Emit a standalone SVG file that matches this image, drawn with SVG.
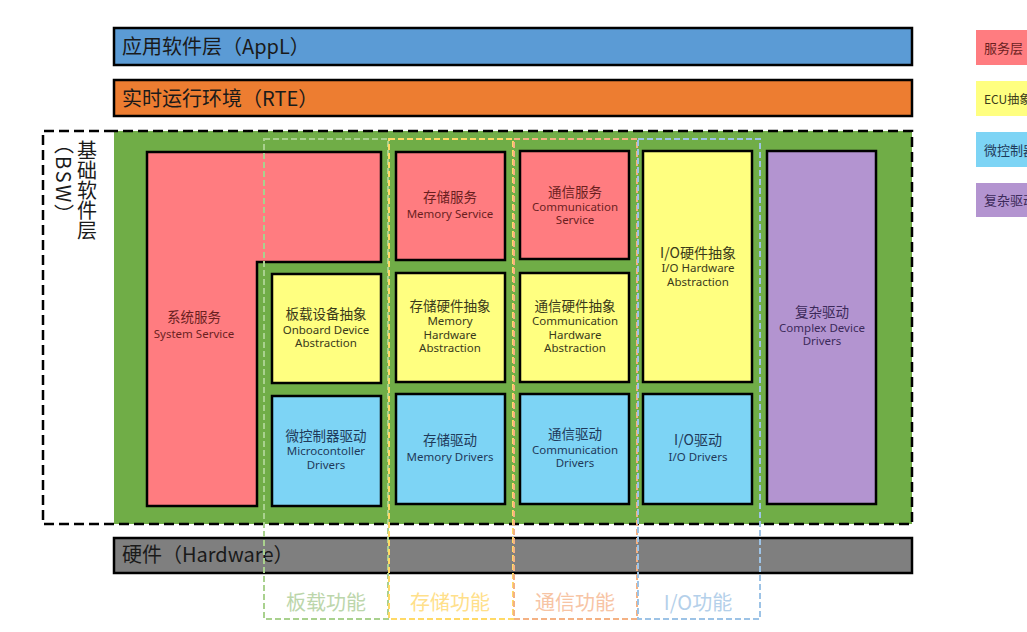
<svg xmlns="http://www.w3.org/2000/svg" width="1027" height="632" viewBox="0 0 1027 632">
<style>
.bar{stroke:#000;stroke-width:2.5}
.box{stroke:#000;stroke-width:2.5}
.red{fill:#ff7c80}
.yel{fill:#ffff80}
.blu{fill:#7dd4f5}
.pur{fill:#b394d0}
.big{font-family:"Noto Sans CJK SC",sans-serif;font-size:20px;fill:#1a1a1a}
.zh{font-family:"Noto Sans CJK SC",sans-serif;font-size:13.5px;text-anchor:middle}
.en{font-family:"Noto Sans","Noto Sans CJK SC",sans-serif;font-size:11.5px;text-anchor:middle}
.tr{fill:#6b1f1f}
.ty{fill:#3a3a1a}
.tb{fill:#1f3a5a}
.tp{fill:#3c2a5a}
.fn{fill:none;stroke-width:2;stroke-dasharray:6 3}
.fl{font-family:"Noto Sans CJK SC",sans-serif;font-size:20px;text-anchor:middle}
.lg{font-family:"Noto Sans CJK SC",sans-serif;font-size:13px}
.vt{font-family:"Noto Sans CJK SC",sans-serif;font-size:20px;fill:#1a1a1a;writing-mode:vertical-rl}
</style>
<rect width="1027" height="632" fill="#fff"/>

<g id="appl">
<rect class="bar" x="114" y="28" width="798" height="37" fill="#5b9bd5"/>
<text class="big" x="122" y="54">应用软件层（AppL）</text>
</g>
<g id="rte">
<rect class="bar" x="114" y="80" width="798" height="36" fill="#ed7d31"/>
<text class="big" x="122" y="106">实时运行环境（RTE）</text>
</g>

<g id="bsw">
<rect x="114" y="131" width="798" height="393" fill="#70ad47"/>
<path d="M114 131 H43 V524 H912 V131 H114" fill="none" stroke="#000" stroke-width="2.5" stroke-dasharray="10 5"/>
<text class="vt" x="87" y="140">基础软件层</text>
<text class="vt" x="64" y="134" letter-spacing="2">（BSW）</text>
</g>

<g id="hardware">
<rect class="bar" x="114" y="538" width="798" height="35" fill="#7f7f7f"/>
<text class="big" x="122" y="562">硬件（Hardware）</text>
</g>

<g id="system-service">
<path class="box red" d="M147 152 H381 V262 H257 V506 H147 Z"/>
<text class="zh tr" x="194" y="322">系统服务</text>
<text class="en tr" x="194" y="338">System Service</text>
</g>
<g id="onboard-abstraction">
<rect class="box yel" x="272" y="274" width="109" height="109"/>
<text class="zh ty" x="326" y="319">板载设备抽象</text>
<text class="en ty" x="326" y="334">Onboard Device</text>
<text class="en ty" x="326" y="347">Abstraction</text>
</g>
<g id="mcu-drivers">
<rect class="box blu" x="272" y="396" width="109" height="110"/>
<text class="zh tb" x="326" y="441">微控制器驱动</text>
<text class="en tb" x="326" y="455">Microcontoller</text>
<text class="en tb" x="326" y="469">Drivers</text>
</g>

<g id="memory-service">
<rect class="box red" x="396" y="152" width="109" height="108"/>
<text class="zh tr" x="450" y="202">存储服务</text>
<text class="en tr" x="450" y="218">Memory Service</text>
</g>
<g id="memory-hw-abstraction">
<rect class="box yel" x="396" y="273" width="109" height="109"/>
<text class="zh ty" x="450" y="311">存储硬件抽象</text>
<text class="en ty" x="450" y="325">Memory</text>
<text class="en ty" x="450" y="339">Hardware</text>
<text class="en ty" x="450" y="352">Abstraction</text>
</g>
<g id="memory-drivers">
<rect class="box blu" x="396" y="394" width="109" height="110"/>
<text class="zh tb" x="450" y="445">存储驱动</text>
<text class="en tb" x="450" y="461">Memory Drivers</text>
</g>

<g id="comm-service">
<rect class="box red" x="520" y="151" width="109" height="108"/>
<text class="zh tr" x="575" y="197">通信服务</text>
<text class="en tr" x="575" y="211">Communication</text>
<text class="en tr" x="575" y="224">Service</text>
</g>
<g id="comm-hw-abstraction">
<rect class="box yel" x="520" y="273" width="109" height="109"/>
<text class="zh ty" x="575" y="311">通信硬件抽象</text>
<text class="en ty" x="575" y="325">Communication</text>
<text class="en ty" x="575" y="339">Hardware</text>
<text class="en ty" x="575" y="352">Abstraction</text>
</g>
<g id="comm-drivers">
<rect class="box blu" x="520" y="394" width="109" height="110"/>
<text class="zh tb" x="575" y="439">通信驱动</text>
<text class="en tb" x="575" y="454">Communication</text>
<text class="en tb" x="575" y="467">Drivers</text>
</g>

<g id="io-hw-abstraction">
<rect class="box yel" x="643" y="151" width="109" height="231"/>
<text class="zh ty" x="698" y="258" style="font-size:14px">I/O硬件抽象</text>
<text class="en ty" x="698" y="272">I/O Hardware</text>
<text class="en ty" x="698" y="286">Abstraction</text>
</g>
<g id="io-drivers">
<rect class="box blu" x="643" y="394" width="109" height="110"/>
<text class="zh tb" x="698" y="445" style="font-size:14px">I/O驱动</text>
<text class="en tb" x="698" y="461">I/O Drivers</text>
</g>

<g id="complex-drivers">
<rect class="box pur" x="767" y="151" width="109" height="353"/>
<text class="zh tp" x="822" y="317">复杂驱动</text>
<text class="en tp" x="822" y="332">Complex Device</text>
<text class="en tp" x="822" y="345">Drivers</text>
</g>

<g id="func-onboard">
<rect class="fn" x="264" y="139" width="124" height="480" stroke="#a9d18e"/>
<text class="fl" x="326" y="610" fill="#bcd6ab">板载功能</text>
</g>
<g id="func-memory">
<rect class="fn" x="389" y="139" width="124" height="480" stroke="#ffd966"/>
<text class="fl" x="450" y="610" fill="#ffe08a">存储功能</text>
</g>
<g id="func-comm">
<rect class="fn" x="514" y="139" width="123" height="480" stroke="#f4b183"/>
<text class="fl" x="575" y="610" fill="#f7c4a4">通信功能</text>
</g>
<g id="func-io">
<rect class="fn" x="638" y="139" width="122" height="480" stroke="#9dc3e6"/>
<text class="fl" x="698" y="610" fill="#b4d0ea">I/O功能</text>
</g>

<g id="legend">
<rect x="976" y="30" width="60" height="35" class="red"/>
<text class="lg tr" x="984" y="53">服务层</text>
<rect x="976" y="81" width="60" height="35" class="yel"/>
<text class="lg ty" x="984" y="104" style="font-size:12px">ECU抽象层</text>
<rect x="976" y="132" width="60" height="35" class="blu"/>
<text class="lg tb" x="984" y="155">微控制器抽象层</text>
<rect x="976" y="183" width="60" height="34" class="pur"/>
<text class="lg tp" x="984" y="205">复杂驱动</text>
</g>

<g id="connectors"></g>
</svg>
